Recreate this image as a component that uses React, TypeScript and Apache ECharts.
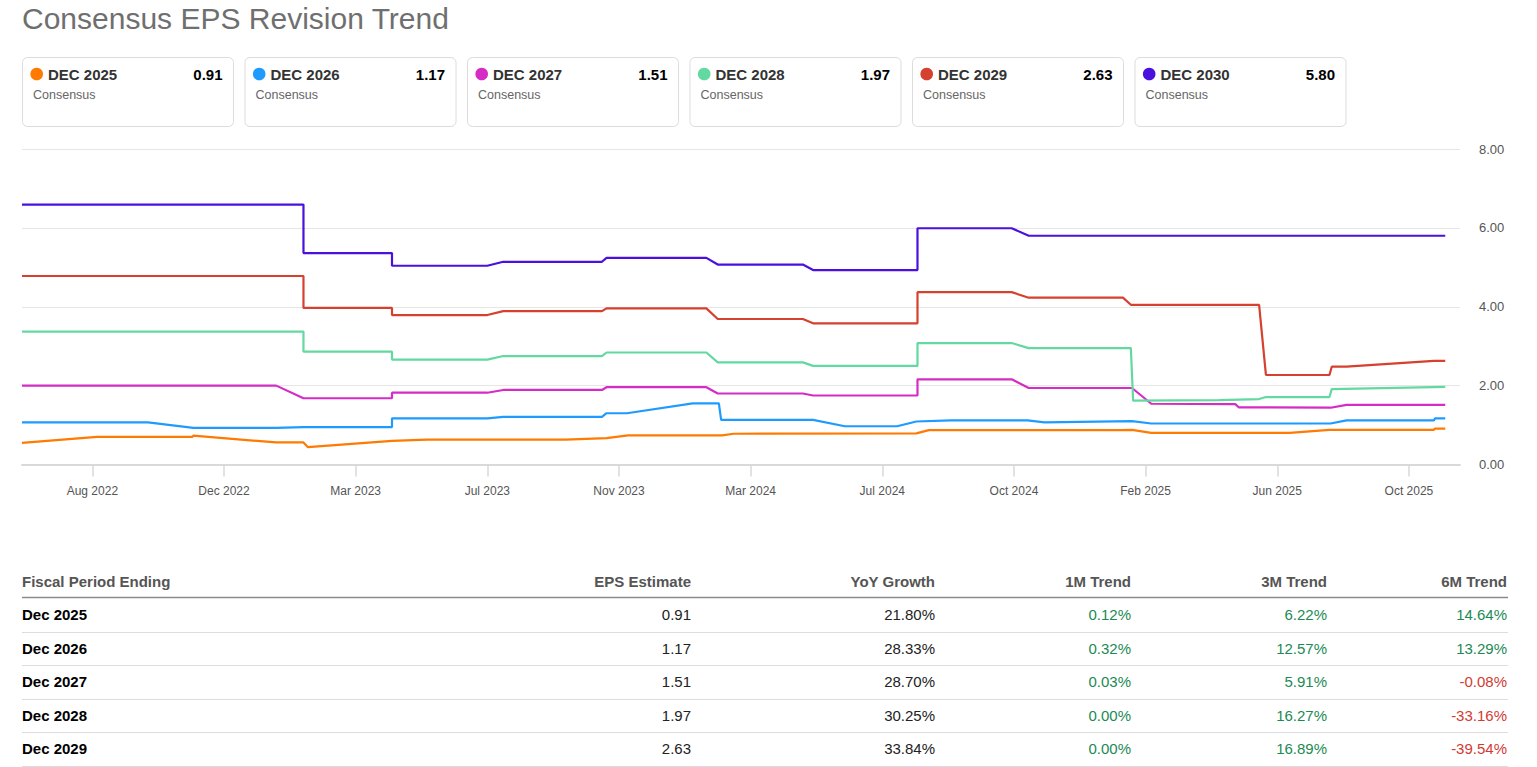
import React, { useEffect, useRef } from "react";
import * as echarts from "echarts";

const FONT = '"Liberation Sans", Arial, Helvetica, sans-serif';

// ---------- data ----------
const titleText = "Consensus EPS Revision Trend";

const xAxisMin = "2022-06-07";
const xAxisMax = "2025-11-25";
const tickDates = [
  "2022-08-08", "2022-12-02", "2023-03-28", "2023-07-22", "2023-11-15", "2024-03-10",
  "2024-07-04", "2024-10-28", "2025-02-21", "2025-06-17", "2025-10-11",
];
const tickLabels = [
  "Aug 2022", "Dec 2022", "Mar 2023", "Jul 2023", "Nov 2023", "Mar 2024",
  "Jul 2024", "Oct 2024", "Feb 2025", "Jun 2025", "Oct 2025",
];
const yTicks = [0, 2, 4, 6, 8];

const seriesNames = ["DEC 2025", "DEC 2026", "DEC 2027", "DEC 2028", "DEC 2029", "DEC 2030"];
const seriesColors = ["#FF7A00", "#1F9BFF", "#D62CC6", "#62D9A0", "#D6402F", "#4A10DE"];
const consensusValues = [0.91, 1.17, 1.51, 1.97, 2.63, 5.8];

const dec2025: [string, number][] = [
  ["2022-06-07", 0.55], ["2022-08-12", 0.70], ["2022-11-04", 0.70], ["2022-11-05", 0.73],
  ["2023-01-17", 0.56], ["2023-02-10", 0.56], ["2023-02-14", 0.44], ["2023-04-29", 0.60],
  ["2023-05-30", 0.63], ["2023-09-29", 0.63], ["2023-11-04", 0.67], ["2023-11-23", 0.74],
  ["2024-02-14", 0.74], ["2024-02-24", 0.78], ["2024-08-03", 0.79], ["2024-08-14", 0.87],
  ["2025-01-31", 0.87], ["2025-02-09", 0.88], ["2025-02-26", 0.80], ["2025-06-28", 0.80],
  ["2025-08-02", 0.88], ["2025-11-02", 0.88], ["2025-11-03", 0.91], ["2025-11-12", 0.91],
];
const dec2026: [string, number][] = [
  ["2022-06-07", 1.07], ["2022-09-26", 1.07], ["2022-11-05", 0.93], ["2023-01-17", 0.93],
  ["2023-02-10", 0.95], ["2023-04-29", 0.95], ["2023-04-29", 1.17], ["2023-07-22", 1.17],
  ["2023-08-05", 1.21], ["2023-10-31", 1.21], ["2023-11-04", 1.30], ["2023-11-22", 1.30],
  ["2024-01-19", 1.55], ["2024-02-11", 1.55], ["2024-02-13", 1.13], ["2024-05-04", 1.13],
  ["2024-06-01", 0.97], ["2024-07-17", 0.97], ["2024-08-03", 1.09], ["2024-09-02", 1.12],
  ["2024-11-09", 1.12], ["2024-11-24", 1.07], ["2025-02-09", 1.10], ["2025-02-26", 1.04],
  ["2025-08-03", 1.04], ["2025-08-17", 1.12], ["2025-11-02", 1.12], ["2025-11-03", 1.17],
  ["2025-11-12", 1.17],
];
const dec2027: [string, number][] = [
  ["2022-06-07", 2.00], ["2023-01-17", 2.00], ["2023-02-10", 1.68], ["2023-04-29", 1.68],
  ["2023-04-29", 1.82], ["2023-07-22", 1.82], ["2023-08-05", 1.89], ["2023-10-31", 1.89],
  ["2023-11-04", 1.96], ["2024-01-31", 1.96], ["2024-02-10", 1.80], ["2024-04-25", 1.80],
  ["2024-05-04", 1.75], ["2024-08-04", 1.75], ["2024-08-04", 2.16], ["2024-10-26", 2.16],
  ["2024-11-10", 1.94], ["2025-02-09", 1.94], ["2025-02-26", 1.54], ["2025-05-11", 1.53],
  ["2025-05-14", 1.45], ["2025-08-03", 1.44], ["2025-08-17", 1.51], ["2025-11-12", 1.51],
];
const dec2028: [string, number][] = [
  ["2022-06-07", 3.37], ["2023-02-10", 3.37], ["2023-02-10", 2.86], ["2023-04-29", 2.86],
  ["2023-04-29", 2.66], ["2023-07-22", 2.66], ["2023-08-05", 2.75], ["2023-10-31", 2.75],
  ["2023-11-04", 2.84], ["2024-01-31", 2.84], ["2024-02-10", 2.59], ["2024-04-25", 2.59],
  ["2024-05-04", 2.50], ["2024-08-04", 2.50], ["2024-08-04", 3.08], ["2024-10-26", 3.08],
  ["2024-11-10", 2.95], ["2025-02-08", 2.95], ["2025-02-10", 1.62], ["2025-04-27", 1.63],
  ["2025-06-01", 1.66], ["2025-06-07", 1.71], ["2025-08-02", 1.71], ["2025-08-04", 1.91],
  ["2025-11-12", 1.97],
];
const dec2029: [string, number][] = [
  ["2022-06-07", 4.78], ["2023-02-10", 4.78], ["2023-02-10", 3.97], ["2023-04-29", 3.97],
  ["2023-04-29", 3.79], ["2023-07-22", 3.79], ["2023-08-05", 3.89], ["2023-10-31", 3.89],
  ["2023-11-04", 3.96], ["2024-01-31", 3.96], ["2024-02-10", 3.69], ["2024-04-25", 3.69],
  ["2024-05-04", 3.58], ["2024-08-04", 3.58], ["2024-08-04", 4.37], ["2024-10-26", 4.37],
  ["2024-11-10", 4.23], ["2025-02-01", 4.23], ["2025-02-08", 4.05], ["2025-06-01", 4.05],
  ["2025-06-07", 2.27], ["2025-08-02", 2.27], ["2025-08-04", 2.48], ["2025-08-17", 2.48],
  ["2025-11-02", 2.63], ["2025-11-12", 2.63],
];
const dec2030: [string, number][] = [
  ["2022-06-07", 6.59], ["2023-02-10", 6.59], ["2023-02-10", 5.36], ["2023-04-29", 5.36],
  ["2023-04-29", 5.04], ["2023-07-22", 5.04], ["2023-08-05", 5.14], ["2023-10-31", 5.14],
  ["2023-11-04", 5.24], ["2024-01-31", 5.24], ["2024-02-10", 5.07], ["2024-04-25", 5.07],
  ["2024-05-04", 4.93], ["2024-08-04", 4.93], ["2024-08-04", 5.99], ["2024-10-26", 5.99],
  ["2024-11-10", 5.80], ["2025-11-12", 5.80],
];
const seriesData = [dec2025, dec2026, dec2027, dec2028, dec2029, dec2030];

const tableHeaders = ["Fiscal Period Ending", "EPS Estimate", "YoY Growth", "1M Trend", "3M Trend", "6M Trend"];
const periods = ["Dec 2025", "Dec 2026", "Dec 2027", "Dec 2028", "Dec 2029"];
const epsEstimates = [0.91, 1.17, 1.51, 1.97, 2.63];
const yoyGrowth = [21.8, 28.33, 28.7, 30.25, 33.84];
const trend1M = [0.12, 0.32, 0.03, 0.0, 0.0];
const trend3M = [6.22, 12.57, 5.91, 16.27, 16.89];
const trend6M = [14.64, 13.29, -0.08, -33.16, -39.54];

// ---------- layout ----------
const W = 1537;
const H = 767;
const GREEN = "#1b8a55";
const RED = "#d13b33";

function buildGraphics() {
  const g: any[] = [];
  g.push({
    type: "text",
    x: 22,
    y: 18,
    style: { text: titleText, fill: "#6f6f6f", fontSize: 30, fontFamily: FONT, align: "left", verticalAlign: "middle" },
  });
  // cards
  seriesNames.forEach((name, i) => {
    const cx = 22 + i * 222.5;
    g.push({
      type: "rect",
      shape: { x: cx + 0.5, y: 57.5, width: 211, height: 69, r: 5 },
      style: { fill: "#fff", stroke: "#dcdcdc", lineWidth: 1 },
    });
    g.push({ type: "circle", shape: { cx: cx + 14.7, cy: 74, r: 6.3 }, style: { fill: seriesColors[i] } });
    g.push({
      type: "text",
      x: cx + 26,
      y: 74.5,
      style: { text: name, fill: "#333", fontSize: 15, fontWeight: "bold", fontFamily: FONT, align: "left", verticalAlign: "middle" },
    });
    g.push({
      type: "text",
      x: cx + 200.5,
      y: 74.5,
      style: { text: consensusValues[i].toFixed(2), fill: "#000", fontSize: 15, fontWeight: "bold", fontFamily: FONT, align: "right", verticalAlign: "middle" },
    });
    g.push({
      type: "text",
      x: cx + 11,
      y: 94.5,
      style: { text: "Consensus", fill: "#666", fontSize: 12.5, fontFamily: FONT, align: "left", verticalAlign: "middle" },
    });
  });
  // table
  const colRight = [0, 691, 935, 1131, 1327, 1507];
  const headerY = 581;
  tableHeaders.forEach((h, c) => {
    g.push({
      type: "text",
      x: c === 0 ? 22 : colRight[c],
      y: headerY,
      style: { text: h, fill: "#555", fontSize: 15, fontWeight: "bold", fontFamily: FONT, align: c === 0 ? "left" : "right", verticalAlign: "middle" },
    });
  });
  g.push({ type: "line", shape: { x1: 22, y1: 597.5, x2: 1508, y2: 597.5 }, style: { stroke: "#8a8a8a", lineWidth: 1.5 } });
  const pct = (v: number) => v.toFixed(2) + "%";
  periods.forEach((p, r) => {
    const y = 614.5 + r * 33.6;
    const cells: { t: string; color: string; bold?: boolean }[] = [
      { t: p, color: "#000", bold: true },
      { t: epsEstimates[r].toFixed(2), color: "#222" },
      { t: pct(yoyGrowth[r]), color: "#222" },
      { t: pct(trend1M[r]), color: trend1M[r] < 0 ? RED : GREEN },
      { t: pct(trend3M[r]), color: trend3M[r] < 0 ? RED : GREEN },
      { t: pct(trend6M[r]), color: trend6M[r] < 0 ? RED : GREEN },
    ];
    cells.forEach((cell, c) => {
      g.push({
        type: "text",
        x: c === 0 ? 22 : colRight[c],
        y,
        style: {
          text: cell.t,
          fill: cell.color,
          fontSize: 15,
          fontWeight: cell.bold ? "bold" : "normal",
          fontFamily: FONT,
          align: c === 0 ? "left" : "right",
          verticalAlign: "middle",
        },
      });
    });
    const ly = Math.round(y + 17) + 0.5;
    g.push({ type: "line", shape: { x1: 22, y1: ly, x2: 1508, y2: ly }, style: { stroke: "#dddddd", lineWidth: 1 } });
  });
  return g;
}

export default function App() {
  const ref = useRef<HTMLDivElement>(null);
  useEffect(() => {
    if (!ref.current) return;
    const chart = echarts.init(ref.current, undefined, { renderer: "svg" });
    const tickTs = tickDates.map((d) => Date.parse(d));
    const option: any = {
      animation: false,
      backgroundColor: "#fff",
      grid: { left: 22, right: 77, top: 149, bottom: 302.5, containLabel: false, outerBoundsMode: "none" },
      xAxis: {
        type: "value",
        min: Date.parse(xAxisMin),
        max: Date.parse(xAxisMax),
        splitLine: { show: false },
        axisLine: { show: true, lineStyle: { color: "#d9d9d9", width: 2 } },
        axisTick: { show: true, customValues: tickTs, length: 12, lineStyle: { color: "#d9d9d9", width: 1.5 } },
        axisLabel: {
          customValues: tickTs,
          margin: 20,
          color: "#555",
          fontSize: 12,
          fontFamily: FONT,
          formatter: (val: number) => {
            const i = tickTs.findIndex((t) => Math.abs(t - val) < 43200000);
            return i >= 0 ? tickLabels[i] : "";
          },
        },
      },
      yAxis: {
        type: "value",
        position: "right",
        min: yTicks[0],
        max: yTicks[yTicks.length - 1],
        interval: 2,
        axisLine: { show: false },
        axisTick: { show: false },
        splitLine: { lineStyle: { color: "#e6e6e6", width: 1 } },
        axisLabel: {
          margin: 19,
          color: "#555",
          fontSize: 13,
          fontFamily: FONT,
          formatter: (v: number) => v.toFixed(2),
        },
      },
      series: seriesData.map((d, i) => ({
        type: "line",
        name: seriesNames[i],
        data: d.map(([date, v]) => [Date.parse(date), v]),
        showSymbol: false,
        symbol: "none",
        lineStyle: { width: 2.2, color: seriesColors[i] },
        itemStyle: { color: seriesColors[i] },
        z: 2,
      })),
      graphic: buildGraphics(),
    };
    chart.setOption(option);
    return () => chart.dispose();
  }, []);
  return (
    <div
      ref={ref}
      style={{ position: "fixed", left: 0, top: 0, width: W, height: H, background: "#fff" }}
    />
  );
}
